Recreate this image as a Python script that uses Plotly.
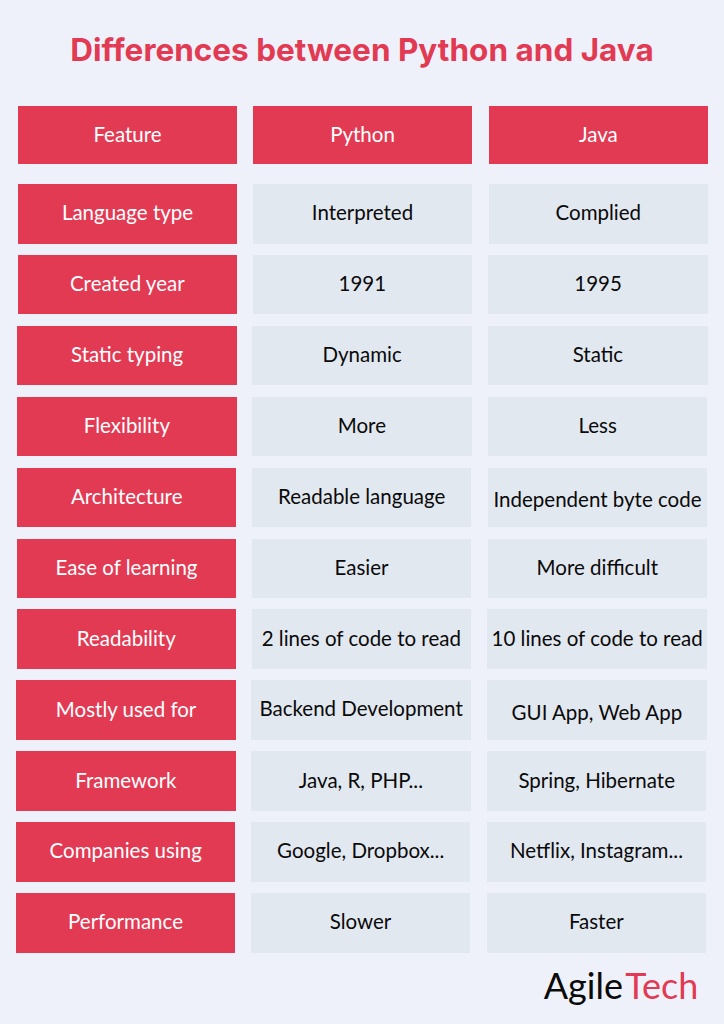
import plotly.graph_objects as go

title = "Differences between Python and Java"
headers = ["Feature", "Python", "Java"]
features = ["Language type", "Created year", "Static typing", "Flexibility", "Architecture",
            "Ease of learning", "Readability", "Mostly used for", "Framework",
            "Companies using", "Performance"]
python_vals = ["Interpreted", "1991", "Dynamic", "More", "Readable language", "Easier",
               "2 lines of code to read", "Backend Development", "Java, R, PHP...",
               "Google, Dropbox...", "Slower"]
java_vals = ["Complied", "1995", "Static", "Less", "Independent byte code", "More difficult",
             "10 lines of code to read", "GUI App, Web App", "Spring, Hibernate",
             "Netflix, Instagram...", "Faster"]

RED, GREY, BG = "#e33a54", "#e2e8f0", "#eef1fa"
COL_X = [127.5, 362.5, 598.3]
COL_W = 219.5
HEAD_Y, HEAD_H = 106, 58
ROW_Y0, ROW_STEP, ROW_H = 184, 70.9, 59.5
SKEW = -2.0 / 10
TEXT_DY = 1.5
n = len(features)
tops = [ROW_Y0 + i * ROW_STEP for i in range(n)]
shift = [i * SKEW for i in range(n)]
java_dy = {4: 3.5, 7: 3.5}
py_dy = {7: -1}

fig = go.Figure()
fig.add_bar(x=COL_X, y=[HEAD_H] * 3, base=[HEAD_Y] * 3, width=[COL_W] * 3, marker_color=RED,
            marker_line_width=0, hoverinfo="skip")
for c, color in enumerate([RED, GREY, GREY]):
    fig.add_bar(x=[COL_X[c] + s for s in shift], y=[ROW_H] * n, base=tops, width=[COL_W] * n,
                marker_color=color, marker_line_width=0, hoverinfo="skip")

FONT = "Lato"
SIZE = 20.5
fig.add_scatter(x=COL_X, y=[HEAD_Y + HEAD_H / 2 + TEXT_DY] * 3, text=headers, mode="text",
                textposition="middle center", textfont=dict(family=FONT, size=SIZE, color="white"))
for c, (vals, color, dy) in enumerate([(features, "white", {}), (python_vals, "#0a0a0a", py_dy),
                                       (java_vals, "#0a0a0a", java_dy)]):
    fig.add_scatter(x=[COL_X[c] + s for s in shift],
                    y=[tops[i] + ROW_H / 2 + TEXT_DY + dy.get(i, 0) for i in range(n)],
                    text=vals, mode="text", textposition="middle center",
                    textfont=dict(family=FONT, size=SIZE, color=color))

fig.add_scatter(x=[362], y=[53], text=[f"<b>{title}</b>"], mode="text", textposition="middle center",
                textfont=dict(family="Inter", size=31.5, color=RED))
fig.add_scatter(x=[621], y=[990], mode="text", textposition="middle center",
                text=[f'Agile\u200a<span style="color:{RED}">Tech</span>'],
                textfont=dict(family=FONT, size=36, color="#0a0a0a"))

fig.update_layout(width=724, height=1024, autosize=False, margin=dict(l=0, r=0, t=0, b=0),
                  paper_bgcolor=BG, plot_bgcolor=BG, showlegend=False, barmode="overlay",
                  bargap=0, hovermode=False)
fig.update_xaxes(range=[0, 724], visible=False, fixedrange=True)
fig.update_yaxes(range=[1024, 0], visible=False, fixedrange=True)
fig.write_html("out.html", config={"displayModeBar": False, "responsive": False},
               post_script="document.body.style.margin='0';document.body.style.background='%s';" % BG)
